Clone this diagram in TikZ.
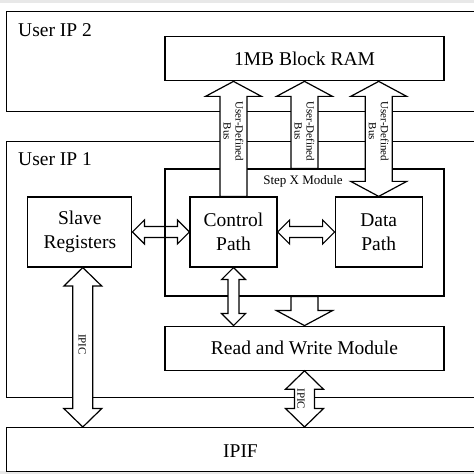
\documentclass[tikz,border=0pt]{standalone}
\usepackage{fontspec}
\setmainfont{Liberation Serif}
\usepackage{tikz}
\usetikzlibrary{positioning,calc}

\newcommand{\mainsize}{\fontsize{19.5bp}{23.5bp}\selectfont}
\newcommand{\smallsize}{\fontsize{13bp}{15bp}\selectfont}
\newcommand{\tinysize}{\fontsize{11bp}{12bp}\selectfont}

% block arrows: shaft half width, head half width, head length
\newcommand{\arrowsize}[3]{\def\shafthw{#1}\def\headhw{#2}\def\headlen{#3}}
% double, vertical: #2 upper tip, #3 lower tip
\newcommand{\dblv}[3][fat]{\draw[#1] (#2) -- ($(#2)+(\headhw,-\headlen)$) -- ($(#2)+(\shafthw,-\headlen)$) -- ($(#3)+(\shafthw,\headlen)$) -- ($(#3)+(\headhw,\headlen)$) -- (#3) -- ($(#3)+(-\headhw,\headlen)$) -- ($(#3)+(-\shafthw,\headlen)$) -- ($(#2)+(-\shafthw,-\headlen)$) -- ($(#2)+(-\headhw,-\headlen)$) -- cycle;}
% double, horizontal: #2 left tip, #3 right tip
\newcommand{\dblh}[3][fat]{\draw[#1] (#2) -- ($(#2)+(\headlen,\headhw)$) -- ($(#2)+(\headlen,\shafthw)$) -- ($(#3)+(-\headlen,\shafthw)$) -- ($(#3)+(-\headlen,\headhw)$) -- (#3) -- ($(#3)+(-\headlen,-\headhw)$) -- ($(#3)+(-\headlen,-\shafthw)$) -- ($(#2)+(\headlen,-\shafthw)$) -- ($(#2)+(\headlen,-\headhw)$) -- cycle;}
% single, vertical: #2 tail, #3 tip, #4 = 1 up / -1 down
\newcommand{\onev}[4][fat]{\draw[#1] (#3) -- ($(#3)+(\headhw,{-(#4)*\headlen})$) -- ($(#3)+(\shafthw,{-(#4)*\headlen})$) -- ($(#2)+(\shafthw,0)$) -- ($(#2)+(-\shafthw,0)$) -- ($(#3)+(-\shafthw,{-(#4)*\headlen})$) -- ($(#3)+(-\headhw,{-(#4)*\headlen})$) -- cycle;}

\begin{document}
\begin{tikzpicture}[
  x=1bp, y=1bp,
  every node/.style={font=\mainsize,inner sep=0pt,align=center},
  frame/.style={draw,line width=1.2bp,anchor=north west,minimum width=520bp},
  blk/.style={draw,line width=1.2bp},
  fat/.style={draw,line width=1.2bp,fill=white,line join=miter},
  tag/.style={font=\tinysize,rotate=-90}
]
\useasboundingbox (0,0) rectangle (474,474);
\clip (0,0) rectangle (474,474);
\fill[gray!18] (0,471) rectangle (474,474);
\fill[gray!18] (0,0) rectangle (474,2.5);

% outer frames, cut by the right edge
\node[frame,minimum height=100bp] (ip2) at (6,463) {};
\node[frame,minimum height=256bp] (ip1) at (6,333) {};
\node[frame,minimum height=44bp] (ipif) at (6,47) {};
\node[anchor=west] (ip2lbl) at ($(ip2.north west)+(12,-19)$) {User IP 2};
\node[anchor=west] (ip1lbl) at ($(ip1.north west)+(12,-18)$) {User IP 1};
\node (ipiflbl) at (240.5,23) {IPIF};

\node[blk,minimum width=279bp,minimum height=127bp] (stepx) at (304.5,241.5) {};
\node[font=\smallsize] (steplbl) at ($(stepx.north)+(-1.5,-13)$) {Step X Module};
\node[blk,minimum width=87bp,minimum height=70bp] (ctrl) at (233.5,242) {Control\\Path};
\node[blk,minimum width=87bp,minimum height=70bp,right=57bp of ctrl] (data) {Data\\Path};
\node[blk,minimum width=104bp,minimum height=70bp,left=57bp of ctrl] (slave) {Slave\\Registers};
\node[blk,minimum width=279bp,minimum height=44bp,above=87bp of stepx] (ram) {1MB Block RAM};
\node[blk,minimum width=279bp,minimum height=44bp,below=29bp of stepx] (rw) {Read and Write Module};

\coordinate (bus1) at (ctrl.north |- ram.south);
\coordinate (bus2) at (stepx.north |- ram.south);
\coordinate (bus3) at (data.north |- ram.south);
\coordinate (rwtop) at (ctrl.south |- rw.north);
\coordinate (slaveio) at ($(slave.south)+(3,0)$);
\coordinate (ipic1) at (slaveio |- ipif.north);
\coordinate (ipic2) at (rw.south |- ipif.north);

% buses
\arrowsize{13.5}{28}{15}
\onev{ctrl.north}{bus1}{1}
\onev{stepx.north}{bus2}{1}
\dblv{bus3}{data.north}
\onev{stepx.south}{rw.north}{-1}
\node[tag] (buslbl1) at ($(bus1)+(0,-50)$) {User-Defined\\Bus};
\node[tag] (buslbl2) at ($(bus2)+(0,-50)$) {User-Defined\\Bus};
\node[tag] (buslbl3) at ($(bus3)+(0,-50)$) {User-Defined\\Bus};

% inner links
\arrowsize{5.5}{12}{12}
\dblh[fat,fill=none]{slave.east}{ctrl.west}
\dblh{ctrl.east}{data.west}
\dblv{ctrl.south}{rwtop}

% IPIC
\arrowsize{10}{19}{18.5}
\dblv{slaveio}{ipic1}
\dblv{rw.south}{ipic2}
\node[tag] (ipiclbl1) at ($(slaveio)+(-0.5,-77)$) {IPIC};
\node[tag] (ipiclbl2) at ($(rw.south)+(-3.5,-28)$) {IPIC};
\end{tikzpicture}
\end{document}
